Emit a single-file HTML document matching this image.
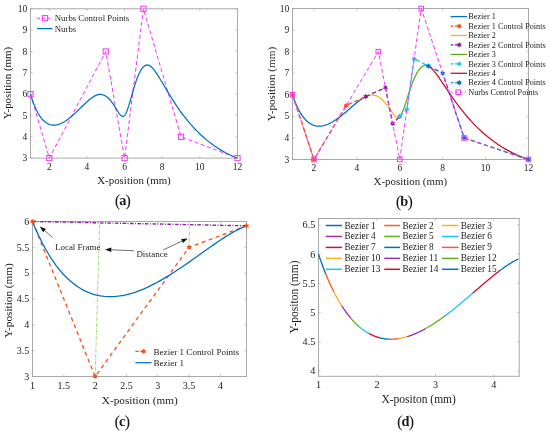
<!DOCTYPE html>
<html><head><meta charset="utf-8"><title>Figure</title>
<style>html,body{margin:0;padding:0;background:#fff}svg{display:block}</style></head>
<body>
<svg width="550" height="433" viewBox="0 0 550 433" font-family="'Liberation Serif', serif">
<rect width="550" height="433" fill="#fff"/>
<rect x="30.50" y="8.80" width="207.00" height="149.30" fill="none" stroke="#a0a0a0" stroke-width="0.9"/>
<path d="M49.32 158.10v-2.20M49.32 8.80v2.20M86.95 158.10v-2.20M86.95 8.80v2.20M124.59 158.10v-2.20M124.59 8.80v2.20M162.23 158.10v-2.20M162.23 8.80v2.20M199.86 158.10v-2.20M199.86 8.80v2.20M237.50 158.10v-2.20M237.50 8.80v2.20M30.50 158.10h2.20M237.50 158.10h-2.20M30.50 136.77h2.20M237.50 136.77h-2.20M30.50 115.44h2.20M237.50 115.44h-2.20M30.50 94.11h2.20M237.50 94.11h-2.20M30.50 72.79h2.20M237.50 72.79h-2.20M30.50 51.46h2.20M237.50 51.46h-2.20M30.50 30.13h2.20M237.50 30.13h-2.20M30.50 8.80h2.20M237.50 8.80h-2.20" stroke="#a0a0a0" stroke-width="0.6" fill="none"/>
<g font-size="9.5" fill="#1c1c1c">
<text x="49.32" y="169.80" text-anchor="middle">2</text>
<text x="86.95" y="169.80" text-anchor="middle">4</text>
<text x="124.59" y="169.80" text-anchor="middle">6</text>
<text x="162.23" y="169.80" text-anchor="middle">8</text>
<text x="199.86" y="169.80" text-anchor="middle">10</text>
<text x="237.50" y="169.80" text-anchor="middle">12</text>
<text x="27.30" y="161.23" text-anchor="end">3</text>
<text x="27.30" y="139.91" text-anchor="end">4</text>
<text x="27.30" y="118.58" text-anchor="end">5</text>
<text x="27.30" y="97.25" text-anchor="end">6</text>
<text x="27.30" y="75.92" text-anchor="end">7</text>
<text x="27.30" y="54.59" text-anchor="end">8</text>
<text x="27.30" y="33.26" text-anchor="end">9</text>
<text x="27.30" y="11.94" text-anchor="end">10</text>
</g>
<polyline points="30.50,94.11 49.32,158.10 105.77,51.46 124.59,158.10 143.41,8.80 181.05,136.77 237.50,158.10" fill="none" stroke="#FF30FF" stroke-width="1.0" stroke-dasharray="4 2.6" stroke-linejoin="round" stroke-linecap="butt"/>
<polyline points="30.50,94.11 31.46,97.27 32.45,100.22 33.44,102.99 34.45,105.56 35.47,107.95 36.51,110.17 37.56,112.21 38.62,114.08 39.70,115.78 40.78,117.33 41.87,118.72 42.98,119.96 44.09,121.05 45.21,122.01 46.34,122.83 47.48,123.52 48.62,124.08 49.77,124.51 50.93,124.84 52.09,125.05 53.25,125.15 54.42,125.15 55.59,125.05 56.76,124.85 57.94,124.57 59.12,124.21 60.29,123.76 61.47,123.24 62.65,122.65 63.82,121.99 65.00,121.28 66.17,120.51 67.34,119.69 68.51,118.82 69.67,117.91 70.82,116.96 71.98,115.98 73.12,114.98 74.26,113.95 75.40,112.90 76.52,111.84 77.64,110.77 78.75,109.70 79.85,108.63 80.93,107.56 82.01,106.51 83.08,105.47 84.13,104.45 85.18,103.45 86.21,102.49 87.22,101.55 88.23,100.66 89.21,99.81 90.19,99.01 91.14,98.26 92.08,97.57 93.00,96.94 93.91,96.38 94.80,95.89 94.80,95.89 95.66,95.48 96.51,95.14 97.34,94.87 98.16,94.67 98.95,94.54 99.73,94.47 100.49,94.46 101.23,94.51 101.96,94.62 102.67,94.78 103.37,94.99 104.05,95.25 104.72,95.56 105.37,95.91 106.00,96.30 106.63,96.73 107.23,97.19 107.83,97.69 108.41,98.22 108.98,98.78 109.54,99.36 110.08,99.97 110.61,100.60 111.14,101.24 111.65,101.90 112.14,102.58 112.63,103.26 113.11,103.95 113.58,104.65 114.04,105.35 114.49,106.05 114.93,106.75 115.36,107.44 115.78,108.13 116.20,108.81 116.60,109.47 117.00,110.12 117.40,110.75 117.78,111.36 118.16,111.95 118.54,112.51 118.91,113.05 119.27,113.55 119.63,114.02 119.98,114.46 120.33,114.86 120.67,115.22 121.01,115.54 121.35,115.81 121.68,116.03 122.01,116.20 122.34,116.32 122.67,116.38 122.99,116.38 123.31,116.33 123.63,116.21 123.95,116.02 124.27,115.77 124.59,115.44 124.59,115.44 124.91,115.05 125.23,114.58 125.55,114.04 125.87,113.44 126.19,112.78 126.51,112.06 126.83,111.28 127.16,110.45 127.48,109.56 127.81,108.64 128.14,107.66 128.47,106.65 128.80,105.60 129.14,104.51 129.48,103.38 129.82,102.23 130.16,101.05 130.51,99.85 130.86,98.63 131.21,97.38 131.57,96.13 131.93,94.86 132.30,93.58 132.67,92.29 133.04,91.00 133.42,89.71 133.80,88.42 134.19,87.14 134.59,85.86 134.98,84.60 135.39,83.34 135.80,82.11 136.21,80.89 136.64,79.70 137.06,78.53 137.50,77.40 137.94,76.29 138.39,75.21 138.84,74.18 139.30,73.18 139.77,72.22 140.25,71.32 140.73,70.46 141.23,69.65 141.73,68.89 142.24,68.20 142.75,67.56 143.28,66.99 143.81,66.48 144.36,66.04 144.91,65.67 145.47,65.38 146.04,65.17 146.62,65.03 147.21,64.98 147.82,65.02 148.43,65.15 149.05,65.36 149.68,65.68 149.68,65.68 150.33,66.09 150.98,66.59 151.65,67.19 152.33,67.88 153.03,68.65 153.74,69.51 154.46,70.44 155.21,71.46 155.97,72.55 156.75,73.71 157.56,74.94 158.38,76.24 159.22,77.59 160.09,79.01 160.98,80.49 161.90,82.02 162.84,83.61 163.81,85.24 164.80,86.92 165.82,88.64 166.88,90.40 167.96,92.19 169.07,94.02 170.22,95.89 171.39,97.78 172.61,99.69 173.85,101.63 175.13,103.59 176.45,105.56 177.81,107.55 179.20,109.55 180.63,111.56 182.11,113.57 183.62,115.58 185.18,117.60 186.78,119.61 188.42,121.61 190.11,123.60 191.84,125.58 193.62,127.55 195.45,129.49 197.32,131.42 199.25,133.32 201.22,135.20 203.25,137.04 205.33,138.85 207.46,140.63 209.65,142.37 211.89,144.06 214.18,145.71 216.53,147.32 218.94,148.87 221.41,150.37 223.94,151.82 226.53,153.20 229.18,154.53 231.89,155.79 234.66,156.98 237.50,158.10" fill="none" stroke="#0072BD" stroke-width="1.25" stroke-linejoin="round" stroke-linecap="butt"/>
<rect x="27.90" y="91.51" width="5.20" height="5.20" fill="none" stroke="#FF30FF" stroke-width="1.0"/>
<rect x="46.72" y="155.50" width="5.20" height="5.20" fill="none" stroke="#FF30FF" stroke-width="1.0"/>
<rect x="103.17" y="48.86" width="5.20" height="5.20" fill="none" stroke="#FF30FF" stroke-width="1.0"/>
<rect x="121.99" y="155.50" width="5.20" height="5.20" fill="none" stroke="#FF30FF" stroke-width="1.0"/>
<rect x="140.81" y="6.20" width="5.20" height="5.20" fill="none" stroke="#FF30FF" stroke-width="1.0"/>
<rect x="178.45" y="134.17" width="5.20" height="5.20" fill="none" stroke="#FF30FF" stroke-width="1.0"/>
<rect x="234.90" y="155.50" width="5.20" height="5.20" fill="none" stroke="#FF30FF" stroke-width="1.0"/>
<line x1="37" y1="18.2" x2="52.5" y2="18.2" stroke="#FF30FF" stroke-width="1.0" stroke-dasharray="3 2.2"/>
<rect x="42.40" y="15.60" width="5.20" height="5.20" fill="none" stroke="#FF30FF" stroke-width="1.0"/>
<text x="54.80" y="21.40" font-size="8.75" text-anchor="start" fill="#1c1c1c">Nurbs Control Points</text>
<line x1="37" y1="28.6" x2="52.5" y2="28.6" stroke="#0072BD" stroke-width="1.25"/>
<text x="54.80" y="32.20" font-size="8.75" text-anchor="start" fill="#1c1c1c">Nurbs</text>
<text x="134.00" y="184.00" font-size="10.9" text-anchor="middle" fill="#1c1c1c">X-position (mm)</text>
<text transform="translate(10.90 83.00) rotate(-90)" font-size="10.9" text-anchor="middle" fill="#1c1c1c">Y-position (mm)</text>
<text x="122.80" y="205.00" text-anchor="middle" fill="#1a1a1a" font-size="14.3" font-weight="bold"><tspan font-size="17" font-weight="normal" dy="1.2">(</tspan><tspan dy="-1.2" dx="-1.1">a</tspan><tspan font-size="17" font-weight="normal" dy="1.2" dx="-1.1">)</tspan></text>
<rect x="292.50" y="8.50" width="236.00" height="151.00" fill="none" stroke="#a0a0a0" stroke-width="0.9"/>
<path d="M313.95 159.50v-2.20M313.95 8.50v2.20M356.86 159.50v-2.20M356.86 8.50v2.20M399.77 159.50v-2.20M399.77 8.50v2.20M442.68 159.50v-2.20M442.68 8.50v2.20M485.59 159.50v-2.20M485.59 8.50v2.20M528.50 159.50v-2.20M528.50 8.50v2.20M292.50 159.50h2.20M528.50 159.50h-2.20M292.50 137.93h2.20M528.50 137.93h-2.20M292.50 116.36h2.20M528.50 116.36h-2.20M292.50 94.79h2.20M528.50 94.79h-2.20M292.50 73.21h2.20M528.50 73.21h-2.20M292.50 51.64h2.20M528.50 51.64h-2.20M292.50 30.07h2.20M528.50 30.07h-2.20M292.50 8.50h2.20M528.50 8.50h-2.20" stroke="#a0a0a0" stroke-width="0.6" fill="none"/>
<g font-size="9.5" fill="#1c1c1c">
<text x="313.95" y="171.20" text-anchor="middle">2</text>
<text x="356.86" y="171.20" text-anchor="middle">4</text>
<text x="399.77" y="171.20" text-anchor="middle">6</text>
<text x="442.68" y="171.20" text-anchor="middle">8</text>
<text x="485.59" y="171.20" text-anchor="middle">10</text>
<text x="528.50" y="171.20" text-anchor="middle">12</text>
<text x="289.30" y="162.63" text-anchor="end">3</text>
<text x="289.30" y="141.06" text-anchor="end">4</text>
<text x="289.30" y="119.49" text-anchor="end">5</text>
<text x="289.30" y="97.92" text-anchor="end">6</text>
<text x="289.30" y="76.35" text-anchor="end">7</text>
<text x="289.30" y="54.78" text-anchor="end">8</text>
<text x="289.30" y="33.21" text-anchor="end">9</text>
<text x="289.30" y="11.63" text-anchor="end">10</text>
</g>
<polyline points="292.50,94.79 293.60,97.97 294.72,100.96 295.85,103.76 297.00,106.36 298.17,108.78 299.35,111.02 300.55,113.08 301.76,114.97 302.98,116.70 304.22,118.26 305.47,119.67 306.73,120.92 308.00,122.03 309.27,123.00 310.56,123.83 311.86,124.52 313.16,125.09 314.47,125.53 315.79,125.86 317.11,126.07 318.44,126.17 319.77,126.17 321.10,126.07 322.44,125.87 323.78,125.59 325.12,125.22 326.47,124.77 327.81,124.24 329.15,123.65 330.49,122.98 331.83,122.26 333.17,121.48 334.50,120.65 335.83,119.77 337.15,118.85 338.47,117.89 339.79,116.90 341.09,115.88 342.39,114.84 343.69,113.79 344.97,112.71 346.24,111.63 347.51,110.55 348.76,109.46 350.00,108.39 351.23,107.32 352.45,106.27 353.65,105.24 354.84,104.23 356.01,103.25 357.17,102.31 358.31,101.41 359.44,100.55 360.55,99.74 361.64,98.98 362.71,98.28 363.76,97.65 364.79,97.08 365.80,96.58" fill="none" stroke="#0072BD" stroke-width="1.3" stroke-linejoin="round" stroke-linecap="butt"/>
<polyline points="292.50,94.79 313.95,159.50 346.14,105.57 365.80,96.58" fill="none" stroke="#FF4D12" stroke-width="1.4" stroke-dasharray="4.2 2.8" stroke-linejoin="round" stroke-linecap="butt"/>
<polygon points="292.50,91.99 291.73,93.45 290.08,93.39 290.96,94.79 290.08,96.19 291.73,96.12 292.50,97.59 293.27,96.12 294.92,96.19 294.04,94.79 294.92,93.39 293.27,93.45" fill="#FF4D12"/>
<polygon points="313.95,156.70 313.18,158.17 311.53,158.10 312.41,159.50 311.53,160.90 313.18,160.83 313.95,162.30 314.72,160.83 316.38,160.90 315.49,159.50 316.38,158.10 314.72,158.17" fill="#FF4D12"/>
<polygon points="346.14,102.77 345.37,104.24 343.71,104.17 344.60,105.57 343.71,106.97 345.37,106.91 346.14,108.37 346.91,106.91 348.56,106.97 347.68,105.57 348.56,104.17 346.91,104.24" fill="#FF4D12"/>
<polygon points="365.80,93.78 365.03,95.25 363.38,95.18 364.26,96.58 363.38,97.98 365.03,97.92 365.80,99.38 366.57,97.92 368.23,97.98 367.34,96.58 368.23,95.18 366.57,95.25" fill="#FF4D12"/>
<polyline points="365.80,96.58 366.79,96.16 367.76,95.82 368.71,95.55 369.63,95.35 370.54,95.21 371.43,95.14 372.30,95.13 373.14,95.19 373.97,95.29 374.79,95.46 375.58,95.67 376.36,95.94 377.11,96.25 377.86,96.60 378.58,96.99 379.29,97.43 379.99,97.90 380.66,98.40 381.33,98.94 381.98,99.50 382.61,100.09 383.23,100.71 383.84,101.34 384.43,101.99 385.01,102.66 385.58,103.34 386.14,104.04 386.68,104.74 387.22,105.44 387.74,106.15 388.25,106.86 388.76,107.57 389.25,108.27 389.73,108.96 390.20,109.64 390.67,110.32 391.12,110.97 391.57,111.61 392.01,112.23 392.45,112.82 392.87,113.39 393.29,113.93 393.70,114.45 394.11,114.92 394.51,115.37 394.91,115.77 395.30,116.13 395.69,116.45 396.08,116.72 396.46,116.95 396.83,117.12 397.21,117.24 397.58,117.30 397.95,117.31 398.31,117.25 398.68,117.13 399.04,116.94 399.41,116.69 399.77,116.36" fill="none" stroke="#FFB01E" stroke-width="1.3" stroke-linejoin="round" stroke-linecap="butt"/>
<polyline points="365.80,96.58 385.47,87.60 392.62,123.55 399.77,116.36" fill="none" stroke="#8E1FA0" stroke-width="1.4" stroke-dasharray="4.2 2.8" stroke-linejoin="round" stroke-linecap="butt"/>
<polygon points="365.80,93.78 365.03,95.25 363.38,95.18 364.26,96.58 363.38,97.98 365.03,97.92 365.80,99.38 366.57,97.92 368.23,97.98 367.34,96.58 368.23,95.18 366.57,95.25" fill="#8E1FA0"/>
<polygon points="385.47,84.80 384.70,86.26 383.04,86.20 383.93,87.60 383.04,89.00 384.70,88.93 385.47,90.40 386.24,88.93 387.89,89.00 387.01,87.60 387.89,86.20 386.24,86.26" fill="#8E1FA0"/>
<polygon points="392.62,120.75 391.85,122.21 390.20,122.15 391.08,123.55 390.20,124.95 391.85,124.88 392.62,126.35 393.39,124.88 395.05,124.95 394.16,123.55 395.05,122.15 393.39,122.21" fill="#8E1FA0"/>
<polygon points="399.77,113.56 399.00,115.02 397.35,114.96 398.23,116.36 397.35,117.76 399.00,117.69 399.77,119.16 400.54,117.69 402.20,117.76 401.31,116.36 402.20,114.96 400.54,115.02" fill="#8E1FA0"/>
<polyline points="399.77,116.36 400.14,115.95 400.50,115.48 400.86,114.94 401.23,114.33 401.60,113.66 401.96,112.93 402.33,112.14 402.70,111.30 403.07,110.41 403.44,109.47 403.82,108.49 404.20,107.46 404.58,106.40 404.96,105.30 405.34,104.16 405.73,103.00 406.13,101.80 406.52,100.59 406.92,99.35 407.32,98.09 407.73,96.82 408.14,95.54 408.56,94.24 408.98,92.94 409.41,91.64 409.84,90.33 410.28,89.03 410.72,87.73 411.17,86.44 411.62,85.16 412.08,83.89 412.55,82.64 413.02,81.42 413.50,80.21 413.99,79.03 414.49,77.88 414.99,76.76 415.50,75.67 416.02,74.62 416.55,73.61 417.08,72.65 417.63,71.73 418.18,70.86 418.74,70.04 419.31,69.28 419.89,68.57 420.48,67.93 421.08,67.35 421.69,66.84 422.31,66.39 422.94,66.02 423.58,65.73 424.23,65.51 424.89,65.37 425.57,65.32 426.25,65.36 426.95,65.49 427.66,65.71 428.38,66.02" fill="none" stroke="#5DB31C" stroke-width="1.3" stroke-linejoin="round" stroke-linecap="butt"/>
<polyline points="399.77,116.36 406.92,109.17 414.08,58.83 428.38,66.02" fill="none" stroke="#1CC3FF" stroke-width="1.4" stroke-dasharray="4.2 2.8" stroke-linejoin="round" stroke-linecap="butt"/>
<polygon points="399.77,113.56 399.00,115.02 397.35,114.96 398.23,116.36 397.35,117.76 399.00,117.69 399.77,119.16 400.54,117.69 402.20,117.76 401.31,116.36 402.20,114.96 400.54,115.02" fill="#1CC3FF"/>
<polygon points="406.92,106.37 406.15,107.83 404.50,107.77 405.38,109.17 404.50,110.57 406.15,110.50 406.92,111.97 407.69,110.50 409.35,110.57 408.46,109.17 409.35,107.77 407.69,107.83" fill="#1CC3FF"/>
<polygon points="414.08,56.03 413.31,57.50 411.65,57.43 412.54,58.83 411.65,60.23 413.31,60.17 414.08,61.63 414.85,60.17 416.50,60.23 415.62,58.83 416.50,57.43 414.85,57.50" fill="#1CC3FF"/>
<polygon points="428.38,63.22 427.61,64.69 425.95,64.62 426.84,66.02 425.95,67.42 427.61,67.36 428.38,68.82 429.15,67.36 430.80,67.42 429.92,66.02 430.80,64.62 429.15,64.69" fill="#1CC3FF"/>
<polyline points="428.38,66.02 429.11,66.44 429.86,66.95 430.62,67.55 431.40,68.25 432.19,69.03 433.00,69.90 433.83,70.84 434.68,71.87 435.55,72.97 436.44,74.15 437.36,75.39 438.29,76.70 439.26,78.08 440.25,79.51 441.26,81.01 442.31,82.56 443.38,84.16 444.48,85.81 445.62,87.51 446.78,89.25 447.98,91.03 449.22,92.84 450.48,94.69 451.79,96.58 453.13,98.49 454.51,100.43 455.94,102.39 457.40,104.37 458.90,106.37 460.44,108.38 462.03,110.40 463.67,112.43 465.35,114.46 467.07,116.50 468.85,118.53 470.67,120.57 472.54,122.59 474.47,124.61 476.44,126.61 478.47,128.60 480.56,130.57 482.70,132.52 484.89,134.44 487.14,136.34 489.45,138.20 491.82,140.03 494.25,141.83 496.74,143.59 499.30,145.30 501.91,146.97 504.60,148.60 507.34,150.17 510.16,151.69 513.04,153.15 515.99,154.55 519.01,155.89 522.10,157.16 525.26,158.37 528.50,159.50" fill="none" stroke="#C8102E" stroke-width="1.3" stroke-linejoin="round" stroke-linecap="butt"/>
<polyline points="428.38,66.02 442.68,73.21 464.14,137.93 528.50,159.50" fill="none" stroke="#0072BD" stroke-width="1.4" stroke-dasharray="4.2 2.8" stroke-linejoin="round" stroke-linecap="butt"/>
<polygon points="428.38,63.22 427.61,64.69 425.95,64.62 426.84,66.02 425.95,67.42 427.61,67.36 428.38,68.82 429.15,67.36 430.80,67.42 429.92,66.02 430.80,64.62 429.15,64.69" fill="#0072BD"/>
<polygon points="442.68,70.41 441.91,71.88 440.26,71.81 441.14,73.21 440.26,74.61 441.91,74.55 442.68,76.01 443.45,74.55 445.11,74.61 444.22,73.21 445.11,71.81 443.45,71.88" fill="#0072BD"/>
<polygon points="464.14,135.13 463.37,136.59 461.71,136.53 462.60,137.93 461.71,139.33 463.37,139.26 464.14,140.73 464.91,139.26 466.56,139.33 465.68,137.93 466.56,136.53 464.91,136.59" fill="#0072BD"/>
<polygon points="528.50,156.70 527.73,158.17 526.08,158.10 526.96,159.50 526.08,160.90 527.73,160.83 528.50,162.30 529.27,160.83 530.92,160.90 530.04,159.50 530.92,158.10 529.27,158.17" fill="#0072BD"/>
<polyline points="292.50,94.79 313.95,159.50 378.32,51.64 399.77,159.50 421.23,8.50 464.14,137.93 528.50,159.50" fill="none" stroke="#FF30FF" stroke-width="1.0" stroke-dasharray="4 2.6" stroke-linejoin="round" stroke-linecap="butt"/>
<rect x="290.20" y="92.49" width="4.60" height="4.60" fill="none" stroke="#FF30FF" stroke-width="1.0"/>
<rect x="311.65" y="157.20" width="4.60" height="4.60" fill="none" stroke="#FF30FF" stroke-width="1.0"/>
<rect x="376.02" y="49.34" width="4.60" height="4.60" fill="none" stroke="#FF30FF" stroke-width="1.0"/>
<rect x="397.47" y="157.20" width="4.60" height="4.60" fill="none" stroke="#FF30FF" stroke-width="1.0"/>
<rect x="418.93" y="6.20" width="4.60" height="4.60" fill="none" stroke="#FF30FF" stroke-width="1.0"/>
<rect x="461.84" y="135.63" width="4.60" height="4.60" fill="none" stroke="#FF30FF" stroke-width="1.0"/>
<rect x="526.20" y="157.20" width="4.60" height="4.60" fill="none" stroke="#FF30FF" stroke-width="1.0"/>
<line x1="450.7" y1="16.60" x2="467" y2="16.60" stroke="#0072BD" stroke-width="1.3"/>
<text x="468.30" y="19.30" font-size="8.23" text-anchor="start" fill="#1c1c1c">Bezier 1</text>
<line x1="450.7" y1="26.05" x2="458.5" y2="26.05" stroke="#FF4D12" stroke-width="1.2" stroke-dasharray="2.9 1.4"/>
<polygon points="459.30,23.15 458.50,24.67 456.79,24.60 457.70,26.05 456.79,27.50 458.50,27.43 459.30,28.95 460.10,27.43 461.81,27.50 460.90,26.05 461.81,24.60 460.10,24.67" fill="#FF4D12"/>
<text x="468.30" y="28.75" font-size="8.23" text-anchor="start" fill="#1c1c1c">Bezier 1 Control Points</text>
<line x1="450.7" y1="35.50" x2="467" y2="35.50" stroke="#FFB01E" stroke-width="1.3"/>
<text x="468.30" y="38.20" font-size="8.23" text-anchor="start" fill="#1c1c1c">Bezier 2</text>
<line x1="450.7" y1="44.95" x2="458.5" y2="44.95" stroke="#8E1FA0" stroke-width="1.2" stroke-dasharray="2.9 1.4"/>
<polygon points="459.30,42.05 458.50,43.57 456.79,43.50 457.70,44.95 456.79,46.40 458.50,46.33 459.30,47.85 460.10,46.33 461.81,46.40 460.90,44.95 461.81,43.50 460.10,43.57" fill="#8E1FA0"/>
<text x="468.30" y="47.65" font-size="8.23" text-anchor="start" fill="#1c1c1c">Bezier 2 Control Points</text>
<line x1="450.7" y1="54.40" x2="467" y2="54.40" stroke="#5DB31C" stroke-width="1.3"/>
<text x="468.30" y="57.10" font-size="8.23" text-anchor="start" fill="#1c1c1c">Bezier 3</text>
<line x1="450.7" y1="63.85" x2="458.5" y2="63.85" stroke="#1CC3FF" stroke-width="1.2" stroke-dasharray="2.9 1.4"/>
<polygon points="459.30,60.95 458.50,62.47 456.79,62.40 457.70,63.85 456.79,65.30 458.50,65.23 459.30,66.75 460.10,65.23 461.81,65.30 460.90,63.85 461.81,62.40 460.10,62.47" fill="#1CC3FF"/>
<text x="468.30" y="66.55" font-size="8.23" text-anchor="start" fill="#1c1c1c">Bezier 3 Control Points</text>
<line x1="450.7" y1="73.30" x2="467" y2="73.30" stroke="#C8102E" stroke-width="1.3"/>
<text x="468.30" y="76.00" font-size="8.23" text-anchor="start" fill="#1c1c1c">Bezier 4</text>
<line x1="450.7" y1="82.75" x2="458.5" y2="82.75" stroke="#0072BD" stroke-width="1.2" stroke-dasharray="2.9 1.4"/>
<polygon points="459.30,79.85 458.50,81.37 456.79,81.30 457.70,82.75 456.79,84.20 458.50,84.13 459.30,85.65 460.10,84.13 461.81,84.20 460.90,82.75 461.81,81.30 460.10,81.37" fill="#0072BD"/>
<text x="468.30" y="85.45" font-size="8.23" text-anchor="start" fill="#1c1c1c">Bezier 4 Control Points</text>
<line x1="450.7" y1="92.20" x2="466" y2="92.20" stroke="#FF30FF" stroke-width="0.9" stroke-dasharray="2.4 2.2"/>
<rect x="455.90" y="89.90" width="4.60" height="4.60" fill="none" stroke="#FF30FF" stroke-width="1.0"/>
<text x="468.30" y="94.90" font-size="8.23" text-anchor="start" fill="#1c1c1c">Nurbs Control Points</text>
<text x="410.30" y="185.20" font-size="10.9" text-anchor="middle" fill="#1c1c1c">X-position (mm)</text>
<text transform="translate(274.70 84.00) rotate(-90)" font-size="11.2" text-anchor="middle" fill="#1c1c1c">Y-position (mm)</text>
<text x="404.30" y="205.60" text-anchor="middle" fill="#1a1a1a" font-size="14.3" font-weight="bold"><tspan font-size="17" font-weight="normal" dy="1.2">(</tspan><tspan dy="-1.2" dx="-1.1">b</tspan><tspan font-size="17" font-weight="normal" dy="1.2" dx="-1.1">)</tspan></text>
<rect x="32.50" y="221.50" width="214.00" height="155.00" fill="none" stroke="#a0a0a0" stroke-width="0.9"/>
<path d="M32.50 376.50v-2.20M32.50 221.50v2.20M63.82 376.50v-2.20M63.82 221.50v2.20M95.13 376.50v-2.20M95.13 221.50v2.20M126.45 376.50v-2.20M126.45 221.50v2.20M157.77 376.50v-2.20M157.77 221.50v2.20M189.09 376.50v-2.20M189.09 221.50v2.20M220.40 376.50v-2.20M220.40 221.50v2.20M32.50 376.50h2.20M246.50 376.50h-2.20M32.50 350.67h2.20M246.50 350.67h-2.20M32.50 324.83h2.20M246.50 324.83h-2.20M32.50 299.00h2.20M246.50 299.00h-2.20M32.50 273.17h2.20M246.50 273.17h-2.20M32.50 247.33h2.20M246.50 247.33h-2.20M32.50 221.50h2.20M246.50 221.50h-2.20" stroke="#a0a0a0" stroke-width="0.6" fill="none"/>
<g font-size="10" fill="#1c1c1c">
<text x="32.50" y="388.70" text-anchor="middle">1</text>
<text x="63.82" y="388.70" text-anchor="middle">1.5</text>
<text x="95.13" y="388.70" text-anchor="middle">2</text>
<text x="126.45" y="388.70" text-anchor="middle">2.5</text>
<text x="157.77" y="388.70" text-anchor="middle">3</text>
<text x="189.09" y="388.70" text-anchor="middle">3.5</text>
<text x="220.40" y="388.70" text-anchor="middle">4</text>
<text x="29.30" y="379.80" text-anchor="end">3</text>
<text x="29.30" y="353.97" text-anchor="end">3.5</text>
<text x="29.30" y="328.13" text-anchor="end">4</text>
<text x="29.30" y="302.30" text-anchor="end">4.5</text>
<text x="29.30" y="276.47" text-anchor="end">5</text>
<text x="29.30" y="250.63" text-anchor="end">5.5</text>
<text x="29.30" y="224.80" text-anchor="end">6</text>
</g>
<polyline points="95.13,376.50 99.68,222.85" fill="none" stroke="#5DB31C" stroke-width="0.6" stroke-dasharray="3 1.2 0.8 1.2" stroke-linejoin="round" stroke-linecap="butt"/>
<polyline points="189.09,247.33 189.76,224.66" fill="none" stroke="#5DB31C" stroke-width="0.6" stroke-dasharray="3 1.2 0.8 1.2" stroke-linejoin="round" stroke-linecap="butt"/>
<polyline points="32.50,221.50 95.13,376.50 189.09,247.33 246.50,225.81" fill="none" stroke="#FF4D12" stroke-width="1.3" stroke-dasharray="4 3.4" stroke-linejoin="round" stroke-linecap="butt"/>
<polyline points="32.50,221.50 35.71,229.14 38.97,236.30 42.29,242.99 45.65,249.23 49.06,255.02 52.51,260.38 56.00,265.32 59.54,269.85 63.11,273.99 66.72,277.73 70.36,281.10 74.03,284.11 77.74,286.76 81.47,289.07 85.23,291.06 89.01,292.72 92.82,294.08 96.64,295.14 100.49,295.92 104.35,296.43 108.22,296.67 112.11,296.67 116.01,296.43 119.91,295.96 123.83,295.28 127.74,294.39 131.66,293.31 135.58,292.05 139.50,290.63 143.41,289.04 147.32,287.31 151.22,285.44 155.12,283.45 159.00,281.34 162.86,279.14 166.72,276.84 170.55,274.47 174.37,272.04 178.16,269.54 181.93,267.01 185.68,264.44 189.39,261.85 193.08,259.25 196.74,256.66 200.36,254.08 203.95,251.52 207.50,249.00 211.02,246.53 214.49,244.12 217.92,241.78 221.30,239.52 224.63,237.36 227.92,235.30 231.16,233.36 234.34,231.55 237.47,229.87 240.54,228.35 243.55,226.99 246.50,225.81" fill="none" stroke="#0072BD" stroke-width="1.3" stroke-linejoin="round" stroke-linecap="butt"/>
<polyline points="32.50,221.50 246.50,225.81" fill="none" stroke="#8E1FA0" stroke-width="1.4" stroke-dasharray="3.5 1.5 1 1.5" stroke-linejoin="round" stroke-linecap="butt"/>
<polygon points="32.50,218.70 31.73,220.17 30.08,220.10 30.96,221.50 30.08,222.90 31.73,222.83 32.50,224.30 33.27,222.83 34.92,222.90 34.04,221.50 34.92,220.10 33.27,220.17" fill="#FF4D12"/>
<polygon points="95.13,373.70 94.36,375.17 92.71,375.10 93.59,376.50 92.71,377.90 94.36,377.83 95.13,379.30 95.90,377.83 97.56,377.90 96.67,376.50 97.56,375.10 95.90,375.17" fill="#FF4D12"/>
<polygon points="189.09,244.53 188.32,246.00 186.66,245.93 187.55,247.33 186.66,248.73 188.32,248.67 189.09,250.13 189.86,248.67 191.51,248.73 190.63,247.33 191.51,245.93 189.86,246.00" fill="#FF4D12"/>
<polygon points="246.50,223.01 245.73,224.47 244.08,224.41 244.96,225.81 244.08,227.21 245.73,227.14 246.50,228.61 247.27,227.14 248.92,227.21 248.04,225.81 248.92,224.41 247.27,224.47" fill="#FF4D12"/>
<text x="55.00" y="249.50" font-size="8.95" text-anchor="start" fill="#1c1c1c">Local Frame</text>
<text x="136.40" y="257.40" font-size="8.95" text-anchor="start" fill="#1c1c1c">Distance</text>
<line x1="52.50" y1="237.40" x2="44.58" y2="230.60" stroke="#111" stroke-width="0.6"/>
<polygon points="39.80,226.50 46.01,228.93 43.15,232.27" fill="#111"/>
<line x1="134.00" y1="250.75" x2="111.29" y2="249.77" stroke="#111" stroke-width="0.6"/>
<polygon points="105.00,249.50 111.39,247.57 111.20,251.97" fill="#111"/>
<line x1="163.00" y1="250.00" x2="182.09" y2="241.07" stroke="#111" stroke-width="0.6"/>
<polygon points="187.80,238.40 183.03,243.06 181.16,239.08" fill="#111"/>
<line x1="135.4" y1="351.4" x2="142" y2="351.4" stroke="#FF4D12" stroke-width="1.3" stroke-dasharray="3.4 1.6"/>
<polygon points="143.70,348.50 142.90,350.02 141.19,349.95 142.10,351.40 141.19,352.85 142.90,352.78 143.70,354.30 144.50,352.78 146.21,352.85 145.29,351.40 146.21,349.95 144.50,350.02" fill="#FF4D12"/>
<text x="153.50" y="354.50" font-size="9.1" text-anchor="start" fill="#1c1c1c">Bezier 1 Control Points</text>
<line x1="135.4" y1="362.7" x2="151.5" y2="362.7" stroke="#0072BD" stroke-width="1.25"/>
<text x="153.50" y="365.70" font-size="9.1" text-anchor="start" fill="#1c1c1c">Bezier 1</text>
<text x="139.80" y="403.50" font-size="11.25" text-anchor="middle" fill="#1c1c1c">X-position (mm)</text>
<text transform="translate(12.40 300.50) rotate(-90)" font-size="11.25" text-anchor="middle" fill="#1c1c1c">Y-position (mm)</text>
<text x="122.30" y="426.00" text-anchor="middle" fill="#1a1a1a" font-size="14.3" font-weight="bold"><tspan font-size="17" font-weight="normal" dy="1.2">(</tspan><tspan dy="-1.2" dx="-1.1">c</tspan><tspan font-size="17" font-weight="normal" dy="1.2" dx="-1.1">)</tspan></text>
<rect x="318.50" y="218.50" width="200.70" height="157.80" fill="none" stroke="#a0a0a0" stroke-width="0.9"/>
<path d="M318.50 376.30v-2.20M318.50 218.50v2.20M376.97 376.30v-2.20M376.97 218.50v2.20M435.44 376.30v-2.20M435.44 218.50v2.20M493.91 376.30v-2.20M493.91 218.50v2.20M318.50 371.01h2.20M519.20 371.01h-2.20M318.50 341.80h2.20M519.20 341.80h-2.20M318.50 312.60h2.20M519.20 312.60h-2.20M318.50 283.40h2.20M519.20 283.40h-2.20M318.50 254.19h2.20M519.20 254.19h-2.20M318.50 224.99h2.20M519.20 224.99h-2.20" stroke="#a0a0a0" stroke-width="0.6" fill="none"/>
<g font-size="10.2" fill="#1c1c1c">
<text x="318.50" y="388.20" text-anchor="middle">1</text>
<text x="376.97" y="388.20" text-anchor="middle">2</text>
<text x="435.44" y="388.20" text-anchor="middle">3</text>
<text x="493.91" y="388.20" text-anchor="middle">4</text>
<text x="315.30" y="374.37" text-anchor="end">4</text>
<text x="315.30" y="345.17" text-anchor="end">4.5</text>
<text x="315.30" y="315.97" text-anchor="end">5</text>
<text x="315.30" y="286.76" text-anchor="end">5.5</text>
<text x="315.30" y="257.56" text-anchor="end">6</text>
<text x="315.30" y="228.36" text-anchor="end">6.5</text>
</g>
<polyline points="318.50,254.19 318.85,255.24 319.20,256.28 319.56,257.31 319.91,258.34 320.26,259.35 320.62,260.36 320.97,261.37 321.33,262.36 321.69,263.35 322.04,264.32 322.40,265.30 322.76,266.26 323.12,267.22 323.48,268.17 323.84,269.11 324.20,270.04 324.56,270.97 324.93,271.89 325.29,272.80 325.65,273.71 325.74,273.93" fill="none" stroke="#0072BD" stroke-width="1.35" stroke-linejoin="round" stroke-linecap="butt"/>
<polyline points="325.65,273.71 326.02,274.60 326.38,275.49 326.75,276.38 327.11,277.25 327.48,278.12 327.85,278.98 328.22,279.84 328.59,280.69 328.96,281.53 329.33,282.36 329.70,283.19 330.07,284.00 330.44,284.82 330.81,285.62 331.19,286.42 331.56,287.21 331.93,287.99 332.31,288.77 332.69,289.54 333.06,290.31 333.44,291.06 333.82,291.81 333.82,291.81" fill="none" stroke="#FF5A1F" stroke-width="1.35" stroke-linejoin="round" stroke-linecap="butt"/>
<polyline points="333.77,291.72 334.15,292.46 334.52,293.20 334.90,293.93 335.28,294.65 335.66,295.37 336.04,296.08 336.43,296.78 336.81,297.48 337.19,298.17 337.57,298.85 337.96,299.53 338.34,300.20 338.72,300.86 339.11,301.52 339.49,302.17 339.88,302.81 340.27,303.45 340.65,304.08 341.04,304.71 341.43,305.33 341.82,305.94 341.92,306.09" fill="none" stroke="#FFB01E" stroke-width="1.35" stroke-linejoin="round" stroke-linecap="butt"/>
<polyline points="341.87,306.01 342.26,306.62 342.65,307.22 343.04,307.81 343.43,308.39 343.82,308.97 344.21,309.55 344.60,310.11 345.00,310.67 345.39,311.23 345.78,311.78 346.18,312.32 346.57,312.85 346.97,313.38 347.36,313.91 347.76,314.43 348.15,314.94 348.55,315.44 348.95,315.94 349.35,316.44 349.75,316.92 350.14,317.41 350.54,317.88 350.94,318.35 350.94,318.35" fill="none" stroke="#9A2FB0" stroke-width="1.35" stroke-linejoin="round" stroke-linecap="butt"/>
<polyline points="350.89,318.29 351.29,318.76 351.69,319.22 352.09,319.67 352.50,320.12 352.90,320.56 353.30,320.99 353.70,321.42 354.11,321.85 354.51,322.27 354.91,322.68 355.32,323.09 355.72,323.49 356.13,323.88 356.53,324.27 356.94,324.66 357.34,325.04 357.75,325.41 358.16,325.78 358.57,326.14 358.97,326.50 359.23,326.72" fill="none" stroke="#5DB31C" stroke-width="1.35" stroke-linejoin="round" stroke-linecap="butt"/>
<polyline points="359.18,326.67 359.59,327.02 360.00,327.37 360.40,327.70 360.81,328.04 361.22,328.36 361.63,328.69 362.05,329.00 362.46,329.31 362.87,329.62 363.28,329.92 363.69,330.22 364.10,330.51 364.52,330.79 364.93,331.07 365.34,331.35 365.76,331.61 366.17,331.88 366.59,332.14 367.00,332.39 367.41,332.64 367.83,332.89 368.25,333.13 368.66,333.36 368.92,333.50" fill="none" stroke="#1CC3FF" stroke-width="1.35" stroke-linejoin="round" stroke-linecap="butt"/>
<polyline points="368.87,333.48 369.29,333.70 369.70,333.92 370.12,334.14 370.54,334.35 370.96,334.56 371.37,334.76 371.79,334.96 372.21,335.15 372.63,335.34 373.05,335.52 373.47,335.70 373.89,335.88 374.31,336.05 374.73,336.21 375.15,336.37 375.57,336.53 375.99,336.68 376.41,336.82 376.83,336.96 377.25,337.10 377.68,337.23 378.10,337.36 378.52,337.48 378.94,337.60 379.31,337.70" fill="none" stroke="#D01030" stroke-width="1.35" stroke-linejoin="round" stroke-linecap="butt"/>
<polyline points="379.26,337.69 379.68,337.80 380.11,337.91 380.53,338.01 380.95,338.11 381.38,338.20 381.80,338.29 382.23,338.38 382.65,338.46 383.08,338.53 383.50,338.61 383.93,338.67 384.35,338.74 384.78,338.80 385.20,338.85 385.63,338.90 386.05,338.95 386.48,338.99 386.91,339.03 387.33,339.07 387.76,339.10 388.19,339.13 388.62,339.15 389.04,339.17 389.47,339.19 389.74,339.19" fill="none" stroke="#0072BD" stroke-width="1.35" stroke-linejoin="round" stroke-linecap="butt"/>
<polyline points="389.68,339.19 390.11,339.20 390.54,339.21 390.97,339.21 391.40,339.21 391.83,339.20 392.25,339.19 392.68,339.18 393.11,339.16 393.54,339.14 393.97,339.11 394.40,339.09 394.83,339.05 395.26,339.02 395.69,338.98 396.12,338.94 396.55,338.89 396.98,338.84 397.41,338.79 397.84,338.73 398.27,338.67 398.54,338.63" fill="none" stroke="#FF5A1F" stroke-width="1.35" stroke-linejoin="round" stroke-linecap="butt"/>
<polyline points="398.48,338.64 398.91,338.57 399.34,338.50 399.77,338.43 400.20,338.35 400.63,338.27 401.06,338.19 401.50,338.10 401.93,338.01 402.36,337.92 402.79,337.83 403.22,337.73 403.65,337.62 404.08,337.52 404.51,337.41 404.95,337.30 405.38,337.18 405.81,337.06 406.24,336.94 406.67,336.82 407.10,336.69 407.10,336.69" fill="none" stroke="#FFB01E" stroke-width="1.35" stroke-linejoin="round" stroke-linecap="butt"/>
<polyline points="407.10,336.69 407.53,336.56 407.97,336.42 408.40,336.29 408.83,336.15 409.26,336.01 409.69,335.86 410.12,335.71 410.56,335.56 410.99,335.41 411.42,335.25 411.85,335.09 412.28,334.93 412.71,334.76 413.15,334.59 413.58,334.42 414.01,334.25 414.44,334.07 414.87,333.89 415.31,333.71 415.74,333.53 416.17,333.34 416.60,333.15 417.03,332.96 417.46,332.76 417.89,332.56 418.33,332.36 418.76,332.16 419.19,331.96 419.62,331.75 420.05,331.54 420.48,331.33 420.91,331.11 421.35,330.90 421.78,330.68 422.21,330.46 422.64,330.23 423.07,330.01 423.50,329.78 423.93,329.55 424.36,329.32 424.79,329.08 425.22,328.84 425.44,328.72" fill="none" stroke="#9A2FB0" stroke-width="1.35" stroke-linejoin="round" stroke-linecap="butt"/>
<polyline points="425.38,328.75 425.81,328.51 426.24,328.27 426.67,328.03 427.10,327.78 427.53,327.53 427.96,327.28 428.39,327.03 428.82,326.78 429.25,326.52 429.68,326.26 430.11,326.00 430.54,325.74 430.97,325.48 431.40,325.21 431.82,324.94 432.25,324.67 432.68,324.40 433.11,324.13 433.54,323.85 433.97,323.58 434.39,323.30 434.82,323.02 435.25,322.74 435.68,322.45 436.10,322.17 436.53,321.88 436.96,321.59 437.38,321.30 437.81,321.01 438.24,320.72 438.66,320.43 439.09,320.13 439.51,319.83 439.94,319.53 440.36,319.23 440.79,318.93 441.21,318.63 441.64,318.32 442.06,318.02 442.49,317.71 442.91,317.40 443.33,317.09 443.76,316.78 444.18,316.47 444.60,316.16 445.03,315.84 445.45,315.53 445.87,315.21 446.24,314.94" fill="none" stroke="#5DB31C" stroke-width="1.35" stroke-linejoin="round" stroke-linecap="butt"/>
<polyline points="446.19,314.97 446.61,314.66 447.03,314.34 447.45,314.02 447.87,313.69 448.30,313.37 448.72,313.05 449.14,312.72 449.56,312.40 449.98,312.07 450.40,311.74 450.82,311.42 451.23,311.09 451.65,310.76 452.07,310.42 452.49,310.09 452.91,309.76 453.33,309.43 453.74,309.09 454.16,308.76 454.58,308.42 454.99,308.09 455.41,307.75 455.83,307.41 456.24,307.07 456.66,306.74 457.07,306.40 457.49,306.06 457.90,305.72 458.31,305.38 458.73,305.03 459.14,304.69 459.55,304.35 459.97,304.01 460.38,303.67 460.79,303.32 461.20,302.98 461.61,302.63 462.02,302.29 462.43,301.95 462.84,301.60 463.25,301.25 463.66,300.91 464.07,300.56 464.48,300.22 464.89,299.87 465.30,299.53 465.70,299.18 466.11,298.83 466.52,298.49 466.92,298.14 467.33,297.79 467.74,297.45 468.14,297.10 468.54,296.75 468.95,296.41 469.35,296.06 469.76,295.71 470.16,295.37 470.56,295.02 470.96,294.68 471.37,294.33 471.77,293.98 472.17,293.64 472.57,293.29 472.82,293.08" fill="none" stroke="#1CC3FF" stroke-width="1.35" stroke-linejoin="round" stroke-linecap="butt"/>
<polyline points="472.77,293.12 473.17,292.78 473.57,292.43 473.97,292.09 474.37,291.74 474.76,291.40 475.16,291.06 475.56,290.72 475.96,290.37 476.35,290.03 476.75,289.69 477.14,289.35 477.54,289.01 477.93,288.67 478.33,288.33 478.72,287.99 479.11,287.65 479.50,287.31 479.90,286.98 480.29,286.64 480.68,286.31 481.07,285.97 481.46,285.64 481.85,285.30 482.24,284.97 482.62,284.64 483.01,284.31 483.40,283.98 483.79,283.65 484.17,283.32 484.56,282.99 484.94,282.66 485.33,282.34 485.71,282.01 486.10,281.69 486.48,281.37 486.86,281.04 487.24,280.72 487.63,280.40 488.01,280.08 488.39,279.77 488.77,279.45 489.15,279.13 489.52,278.82 489.90,278.51 490.28,278.20 490.66,277.88 491.03,277.58 491.41,277.27 491.78,276.96 492.16,276.65 492.53,276.35 492.91,276.05 493.28,275.75 493.65,275.45 494.02,275.15 494.39,274.85 494.76,274.55 495.13,274.26 495.50,273.97 495.87,273.68 496.24,273.39 496.61,273.10 496.97,272.81 497.34,272.53 497.70,272.24 498.07,271.96 498.43,271.68 498.80,271.40 499.16,271.13 499.52,270.85 499.88,270.58 500.24,270.31 500.33,270.24" fill="none" stroke="#D01030" stroke-width="1.35" stroke-linejoin="round" stroke-linecap="butt"/>
<polyline points="500.29,270.27 500.65,270.00 501.01,269.74 501.37,269.47 501.73,269.21 502.08,268.94 502.44,268.68 502.80,268.43 503.15,268.17 503.51,267.92 503.86,267.66 504.21,267.41 504.57,267.17 504.92,266.92 505.27,266.67 505.62,266.43 505.97,266.19 506.32,265.96 506.67,265.72 507.02,265.49 507.36,265.26 507.71,265.03 508.05,264.80 508.40,264.58 508.74,264.35 509.09,264.13 509.43,263.92 509.77,263.70 510.11,263.49 510.45,263.28 510.79,263.07 511.13,262.87 511.47,262.66 511.81,262.46 512.14,262.26 512.48,262.07 512.82,261.88 513.15,261.69 513.48,261.50 513.82,261.31 514.15,261.13 514.48,260.95 514.81,260.77 515.14,260.60 515.47,260.43 515.80,260.26 516.12,260.09 516.45,259.93 516.78,259.77 517.10,259.61 517.43,259.45 517.75,259.30 518.07,259.15 518.27,259.06" fill="none" stroke="#0072BD" stroke-width="1.35" stroke-linejoin="round" stroke-linecap="butt"/>
<line x1="325.75" y1="225.50" x2="342.00" y2="225.50" stroke="#0072BD" stroke-width="1.5"/>
<text x="344.50" y="228.50" font-size="9.3" text-anchor="start" fill="#1c1c1c">Bezier 1</text>
<line x1="384.25" y1="225.50" x2="400.00" y2="225.50" stroke="#FF5A1F" stroke-width="1.5"/>
<text x="402.50" y="228.50" font-size="9.3" text-anchor="start" fill="#1c1c1c">Bezier 2</text>
<line x1="442.00" y1="225.50" x2="458.50" y2="225.50" stroke="#FFB01E" stroke-width="1.5"/>
<text x="460.75" y="228.50" font-size="9.3" text-anchor="start" fill="#1c1c1c">Bezier 3</text>
<line x1="325.75" y1="236.45" x2="342.00" y2="236.45" stroke="#9A2FB0" stroke-width="1.5"/>
<text x="344.50" y="239.45" font-size="9.3" text-anchor="start" fill="#1c1c1c">Bezier 4</text>
<line x1="384.25" y1="236.45" x2="400.00" y2="236.45" stroke="#5DB31C" stroke-width="1.5"/>
<text x="402.50" y="239.45" font-size="9.3" text-anchor="start" fill="#1c1c1c">Bezier 5</text>
<line x1="442.00" y1="236.45" x2="458.50" y2="236.45" stroke="#1CC3FF" stroke-width="1.5"/>
<text x="460.75" y="239.45" font-size="9.3" text-anchor="start" fill="#1c1c1c">Bezier 6</text>
<line x1="325.75" y1="247.40" x2="342.00" y2="247.40" stroke="#D01030" stroke-width="1.5"/>
<text x="344.50" y="250.40" font-size="9.3" text-anchor="start" fill="#1c1c1c">Bezier 7</text>
<line x1="384.25" y1="247.40" x2="400.00" y2="247.40" stroke="#0072BD" stroke-width="1.5"/>
<text x="402.50" y="250.40" font-size="9.3" text-anchor="start" fill="#1c1c1c">Bezier 8</text>
<line x1="442.00" y1="247.40" x2="458.50" y2="247.40" stroke="#FF5A1F" stroke-width="1.5"/>
<text x="460.75" y="250.40" font-size="9.3" text-anchor="start" fill="#1c1c1c">Bezier 9</text>
<line x1="325.75" y1="258.35" x2="342.00" y2="258.35" stroke="#FFB01E" stroke-width="1.5"/>
<text x="344.50" y="261.35" font-size="9.3" text-anchor="start" fill="#1c1c1c">Bezier 10</text>
<line x1="384.25" y1="258.35" x2="400.00" y2="258.35" stroke="#9A2FB0" stroke-width="1.5"/>
<text x="402.50" y="261.35" font-size="9.3" text-anchor="start" fill="#1c1c1c">Bezier 11</text>
<line x1="442.00" y1="258.35" x2="458.50" y2="258.35" stroke="#5DB31C" stroke-width="1.5"/>
<text x="460.75" y="261.35" font-size="9.3" text-anchor="start" fill="#1c1c1c">Bezier 12</text>
<line x1="325.75" y1="269.30" x2="342.00" y2="269.30" stroke="#1CC3FF" stroke-width="1.5"/>
<text x="344.50" y="272.30" font-size="9.3" text-anchor="start" fill="#1c1c1c">Bezier 13</text>
<line x1="384.25" y1="269.30" x2="400.00" y2="269.30" stroke="#D01030" stroke-width="1.5"/>
<text x="402.50" y="272.30" font-size="9.3" text-anchor="start" fill="#1c1c1c">Bezier 14</text>
<line x1="442.00" y1="269.30" x2="458.50" y2="269.30" stroke="#0072BD" stroke-width="1.5"/>
<text x="460.75" y="272.30" font-size="9.3" text-anchor="start" fill="#1c1c1c">Bezier 15</text>
<text x="418.70" y="403.10" font-size="11.5" text-anchor="middle" fill="#1c1c1c">X-positon (mm)</text>
<text transform="translate(297.60 297.00) rotate(-90)" font-size="11.5" text-anchor="middle" fill="#1c1c1c">Y-positon (mm)</text>
<text x="405.50" y="425.90" text-anchor="middle" fill="#1a1a1a" font-size="14.3" font-weight="bold"><tspan font-size="17" font-weight="normal" dy="1.2">(</tspan><tspan dy="-1.2" dx="-1.1">d</tspan><tspan font-size="17" font-weight="normal" dy="1.2" dx="-1.1">)</tspan></text>
</svg>
</body></html>
